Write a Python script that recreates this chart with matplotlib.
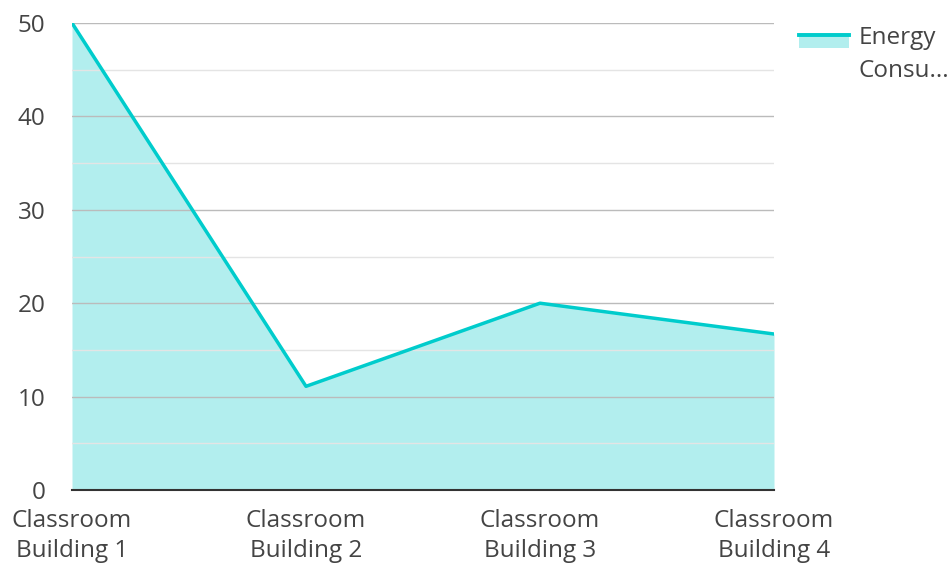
import matplotlib.pyplot as plt
from matplotlib.patches import Rectangle
from matplotlib.lines import Line2D
from matplotlib.legend_handler import HandlerBase
from matplotlib.ticker import MultipleLocator

plt.rcParams['font.family'] = ['Open Sans', 'DejaVu Sans']

buildings = ['Classroom\nBuilding 1', 'Classroom\nBuilding 2',
             'Classroom\nBuilding 3', 'Classroom\nBuilding 4']
energy = [50, 11.1, 20, 16.7]
series_name = 'Energy\nConsu...'

line_col = '#00cccc'
fill_col = '#b2eeee'
text_col = '#444444'


class AreaHandler(HandlerBase):
    # filled box with the line along its top edge, lifted to the first text line
    def create_artists(self, legend, orig, xd, yd, w, h, fs, trans):
        rect = Rectangle((-xd, 10.8), w, 10.8, facecolor=fill_col,
                         edgecolor='none', transform=trans)
        ln = Line2D([-xd, -xd + w], [20.5, 20.5], color=line_col,
                    linewidth=2.8, transform=trans)
        return [rect, ln]


fig = plt.figure(figsize=(9.53, 5.64), dpi=100)
ax = fig.add_axes([72/953, 74/564, 702/953, 467/564])

x = list(range(len(buildings)))
ax.fill_between(x, energy, 0, color=fill_col, linewidth=0, zorder=1)
ax.plot(x, energy, color=line_col, linewidth=2.5, zorder=3)

ax.set_xlim(0, 3)
ax.set_ylim(0, 50)
ax.yaxis.set_major_locator(MultipleLocator(10))
ax.yaxis.set_minor_locator(MultipleLocator(5))
ax.grid(which='major', axis='y', color='#bbbbbb', linewidth=1, zorder=2)
ax.grid(which='minor', axis='y', color='#e4e4e4', linewidth=1, zorder=2)
ax.set_axisbelow(False)

ax.set_xticks(x)
ax.set_xticklabels(buildings, linespacing=1.3)
ax.tick_params(axis='both', which='both', length=0, labelsize=17.5, labelcolor=text_col)
ax.tick_params(axis='x', pad=14)
ax.tick_params(axis='y', pad=19)
for s in ['top', 'right', 'left']:
    ax.spines[s].set_visible(False)
ax.spines['bottom'].set_color('#333333')
ax.spines['bottom'].set_linewidth(1.5)
ax.spines['bottom'].set_zorder(4)

leg = fig.legend(['area'], [series_name], loc='upper left',
                 handler_map={str: AreaHandler()},
                 bbox_to_anchor=(777/953, 1 - 4/564), frameon=False,
                 fontsize=17.5, handlelength=2.06, handletextpad=0.41,
                 labelcolor=text_col)
for t in leg.get_texts():
    t.set_linespacing(1.5)

fig.savefig('out.png', dpi=100)
